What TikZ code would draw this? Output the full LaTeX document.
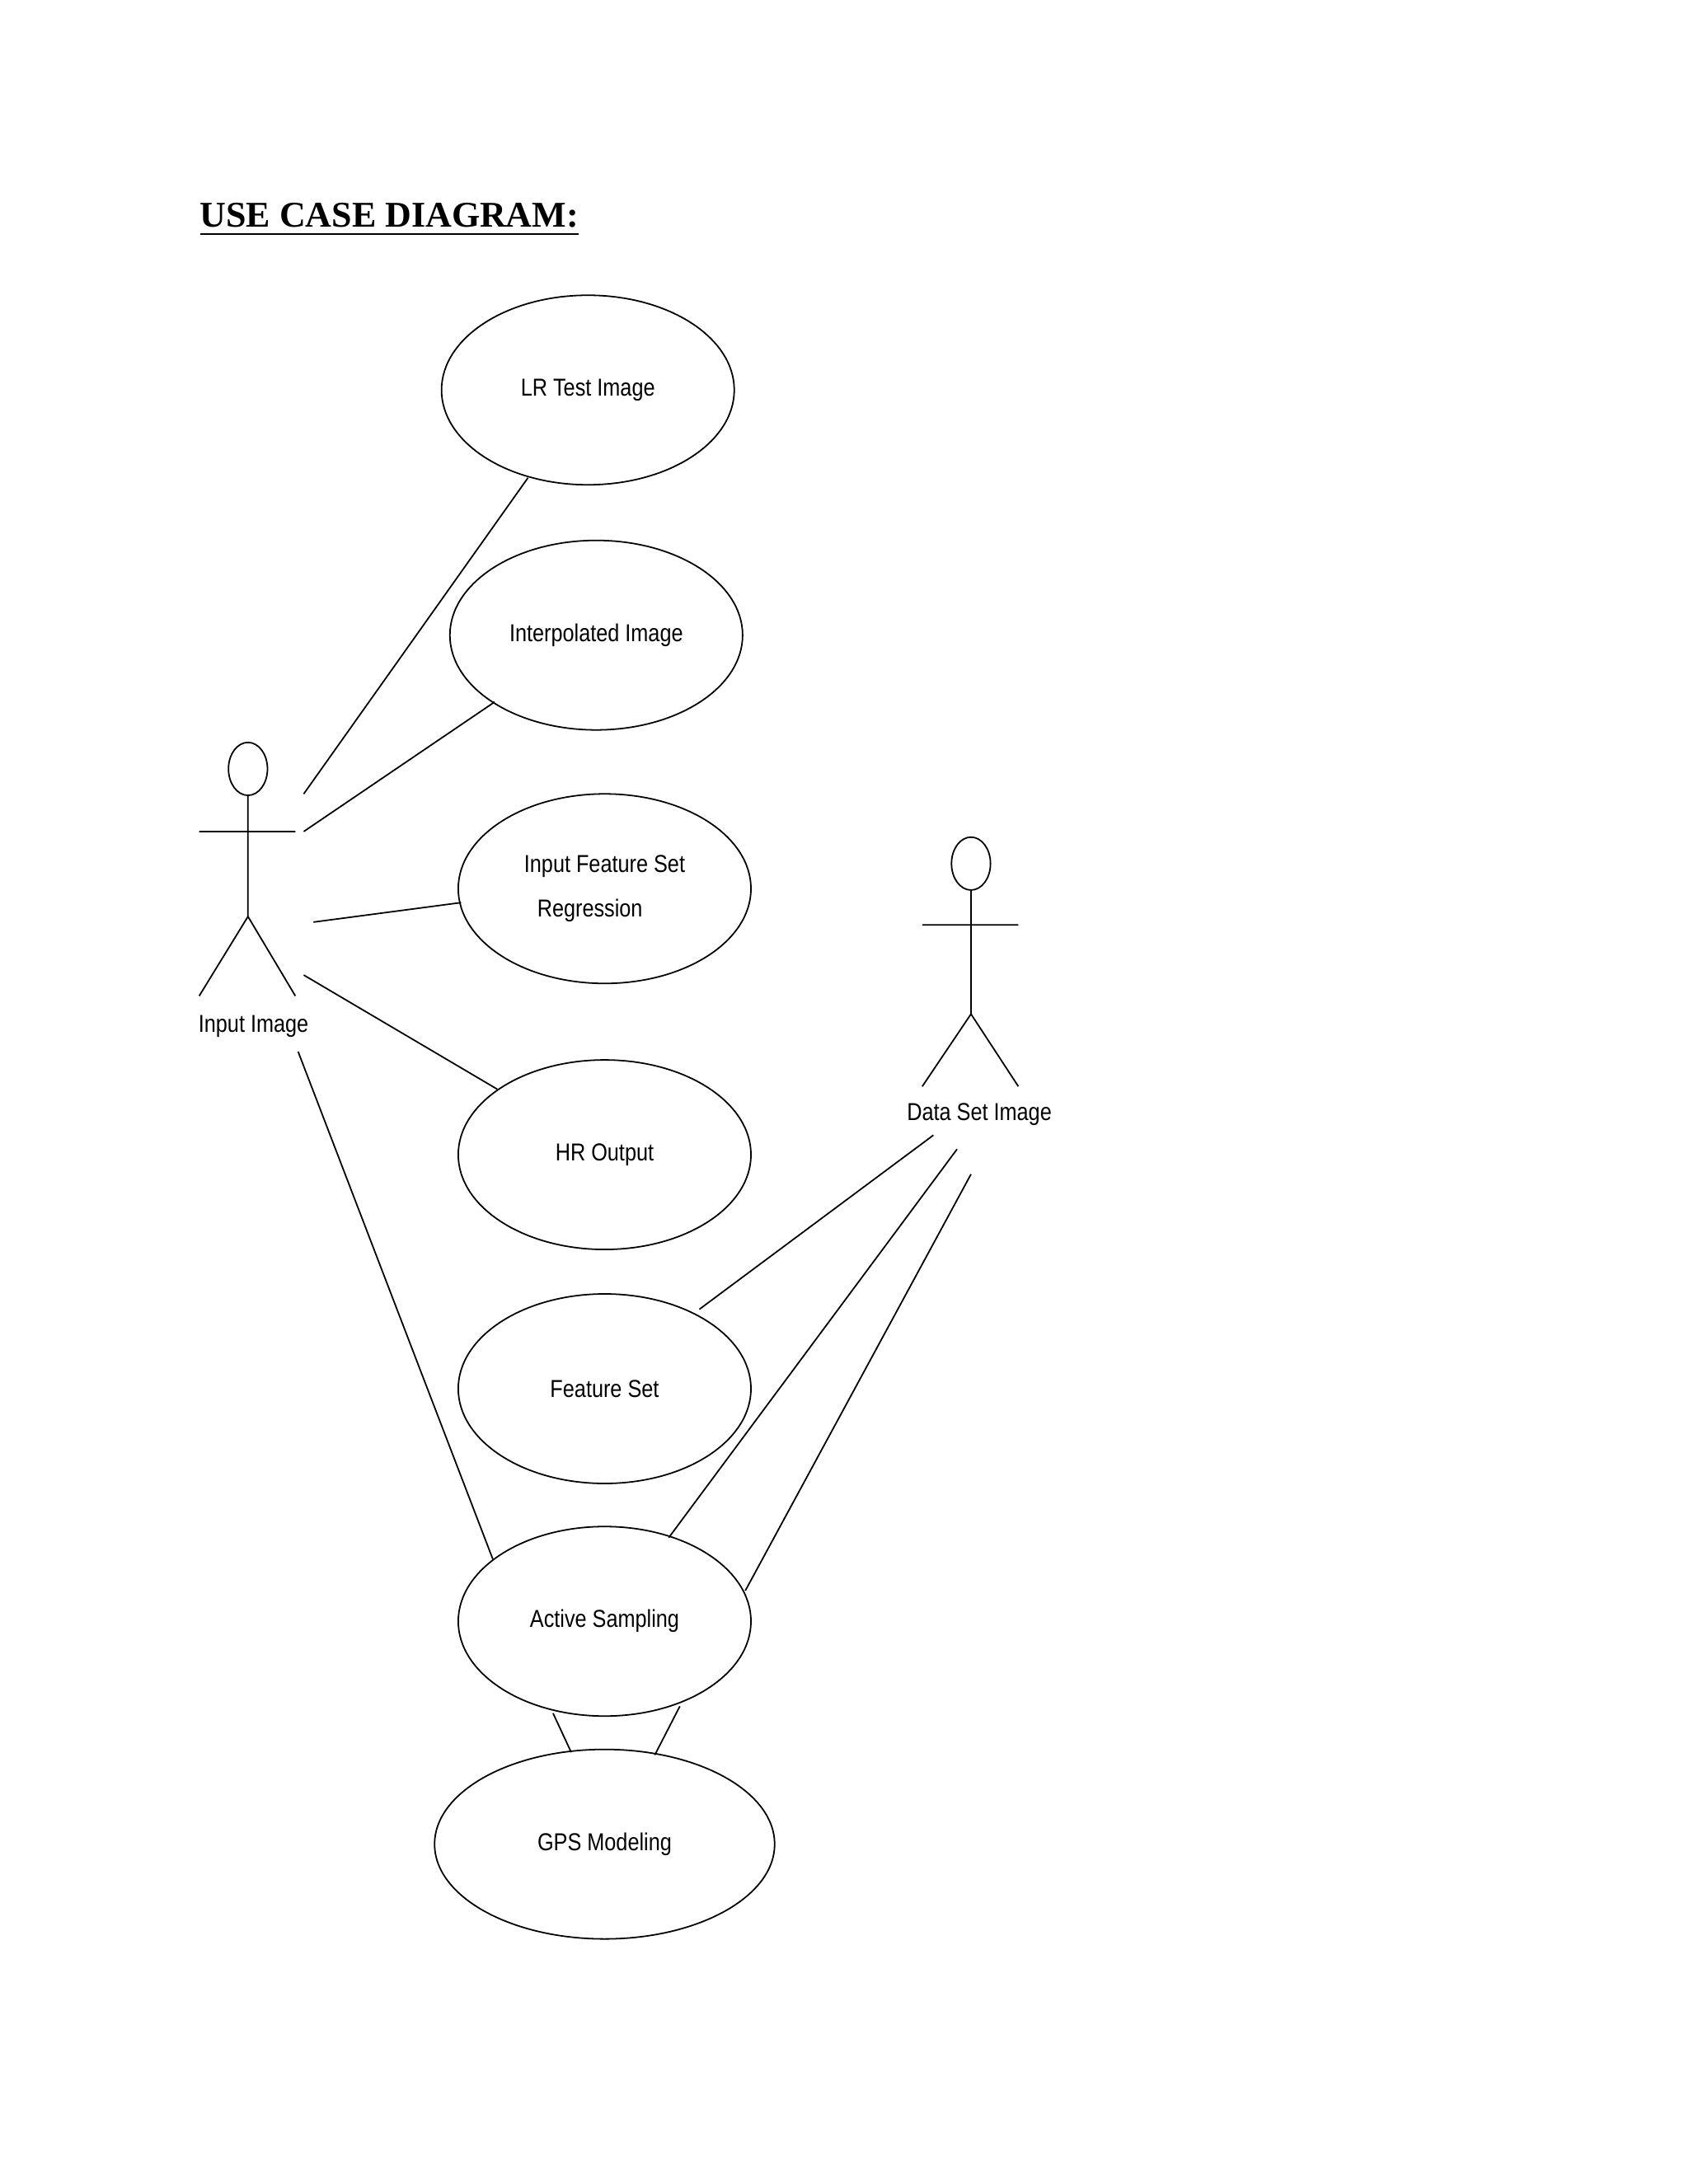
\documentclass[tikz,border=0pt]{standalone}
\usepackage{fontspec}
\setmainfont{Liberation Serif}
\newfontfamily\lab[FakeStretch=0.85]{Liberation Sans}
\usetikzlibrary{shapes.geometric}
\begin{document}
\begin{tikzpicture}[x=0.01cm,y=-0.01cm,line width=0.3pt,
  uc/.style={draw,ellipse,minimum width=2.1cm,minimum height=1.36cm,inner sep=0pt,font=\lab\fontsize{5}{6}\selectfont,align=center},
  lbl/.style={font=\lab\fontsize{5}{6}\selectfont}]
\useasboundingbox (0,0) rectangle (1212,1568);
\fill[white] (0,0) rectangle (1212,1568);
\node[anchor=west,inner sep=0pt,font=\bfseries\fontsize{7.4}{9}\selectfont] (title) at (143,158) {\underline{USE CASE DIAGRAM:}};
\node[uc] (lr) at (422,280) {LR Test Image};
\node[uc] (ip) at (428,456) {Interpolated Image};
\node[uc] (ifs) at (434,638) {Input Feature Set\\[3pt]\hspace*{-1.2em}Regression};
\node[uc] (hr) at (434,829) {HR Output};
\node[uc] (fs) at (434,997) {Feature Set};
\node[uc] (as) at (434,1164) {Active Sampling};
\node[uc,minimum width=2.44cm] (gps) at (434,1324) {GPS Modeling};
% actor 1
\draw (178,552) ellipse (14 and 19);
\draw (178,571) -- (178,658) (143,597) -- (212,597) (143,715) -- (178,658) -- (212,715);
\node[lbl] (a1) at (182,737) {Input Image};
% actor 2
\draw (697,620) ellipse (14 and 19);
\draw (697,639) -- (697,728) (662,664) -- (731,664) (662,780) -- (697,728) -- (731,780);
\node[lbl] (a2) at (703,800) {Data Set Image};
% connectors
\coordinate (p1) at (218,570); \coordinate (p2) at (218,597);
\coordinate (p3) at (225,662); \coordinate (p4) at (218,700);
\coordinate (p5) at (214,755);
\coordinate (q1) at (670,815); \coordinate (q2) at (687,825); \coordinate (q3) at (697,843);
\coordinate (e1) at (379,343); \coordinate (e2) at (355,504);
\coordinate (e3) at (331,648); \coordinate (e4) at (357,782);
\coordinate (e5) at (354,1120); \coordinate (e6) at (502,940);
\coordinate (e7) at (480,1104); \coordinate (e8) at (535,1142);
\coordinate (g1) at (397,1230); \coordinate (g2) at (410,1258);
\coordinate (g3) at (488,1225); \coordinate (g4) at (470,1260);
\draw (p1) -- (e1);
\draw (p2) -- (e2);
\draw (p3) -- (e3);
\draw (p4) -- (e4);
\draw (p5) -- (e5);
\draw (q1) -- (e6);
\draw (q2) -- (e7);
\draw (q3) -- (e8);
\draw (g1) -- (g2);
\draw (g3) -- (g4);
\end{tikzpicture}
\end{document}
